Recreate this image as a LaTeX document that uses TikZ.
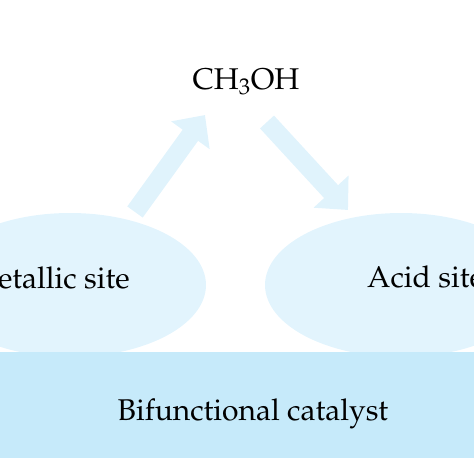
\documentclass[tikz,border=0pt]{standalone}
\usepackage[T1]{fontenc}
\usepackage{mathpazo}
\usepackage{xcolor}
\usetikzlibrary{arrows.meta, positioning}

\definecolor{siteblue}{HTML}{E2F4FD}
\definecolor{arrowblue}{HTML}{E0F3FC}
\definecolor{baseblue}{HTML}{C6EAFA}

\begin{document}
\begin{tikzpicture}[
        x=1pt, y=-1pt,
        every node/.style={font=\fontsize{30}{36}\selectfont, inner sep=0pt},
        flow/.style={draw=arrowblue, line width=19pt, -{Triangle[width=46pt, length=25pt]}},
    ]

    \useasboundingbox (0,0) rectangle (474,474);
    \clip (0,0) rectangle (474,474);

    % Sites
    \fill[siteblue] (70,285) ellipse [x radius=136, y radius=72];
    \fill[siteblue] (401,285) ellipse [x radius=136, y radius=72];

    % Catalyst support
    \fill[baseblue] (0,352) rectangle (474,458);

    % Labels
    \node[anchor=base] (methanol) at (246,89) {CH\textsubscript{3}OH};
    \node[anchor=base east] (metal) at (130,288) {Metallic site};
    \node[anchor=base west] (acid) at (367,287) {Acid site};
    \node[anchor=base] (catalyst) at (253,420) {Bifunctional catalyst};

    % Arrow ends
    \coordinate (upstart) at (135,212);
    \coordinate (upend) at (205,115);
    \coordinate (downstart) at (267,122);
    \coordinate (downend) at (348,210);

    % Draw Arrows
    \draw[flow] (upstart) -- (upend);
    \draw[flow] (downstart) -- (downend);

\end{tikzpicture}
\end{document}
